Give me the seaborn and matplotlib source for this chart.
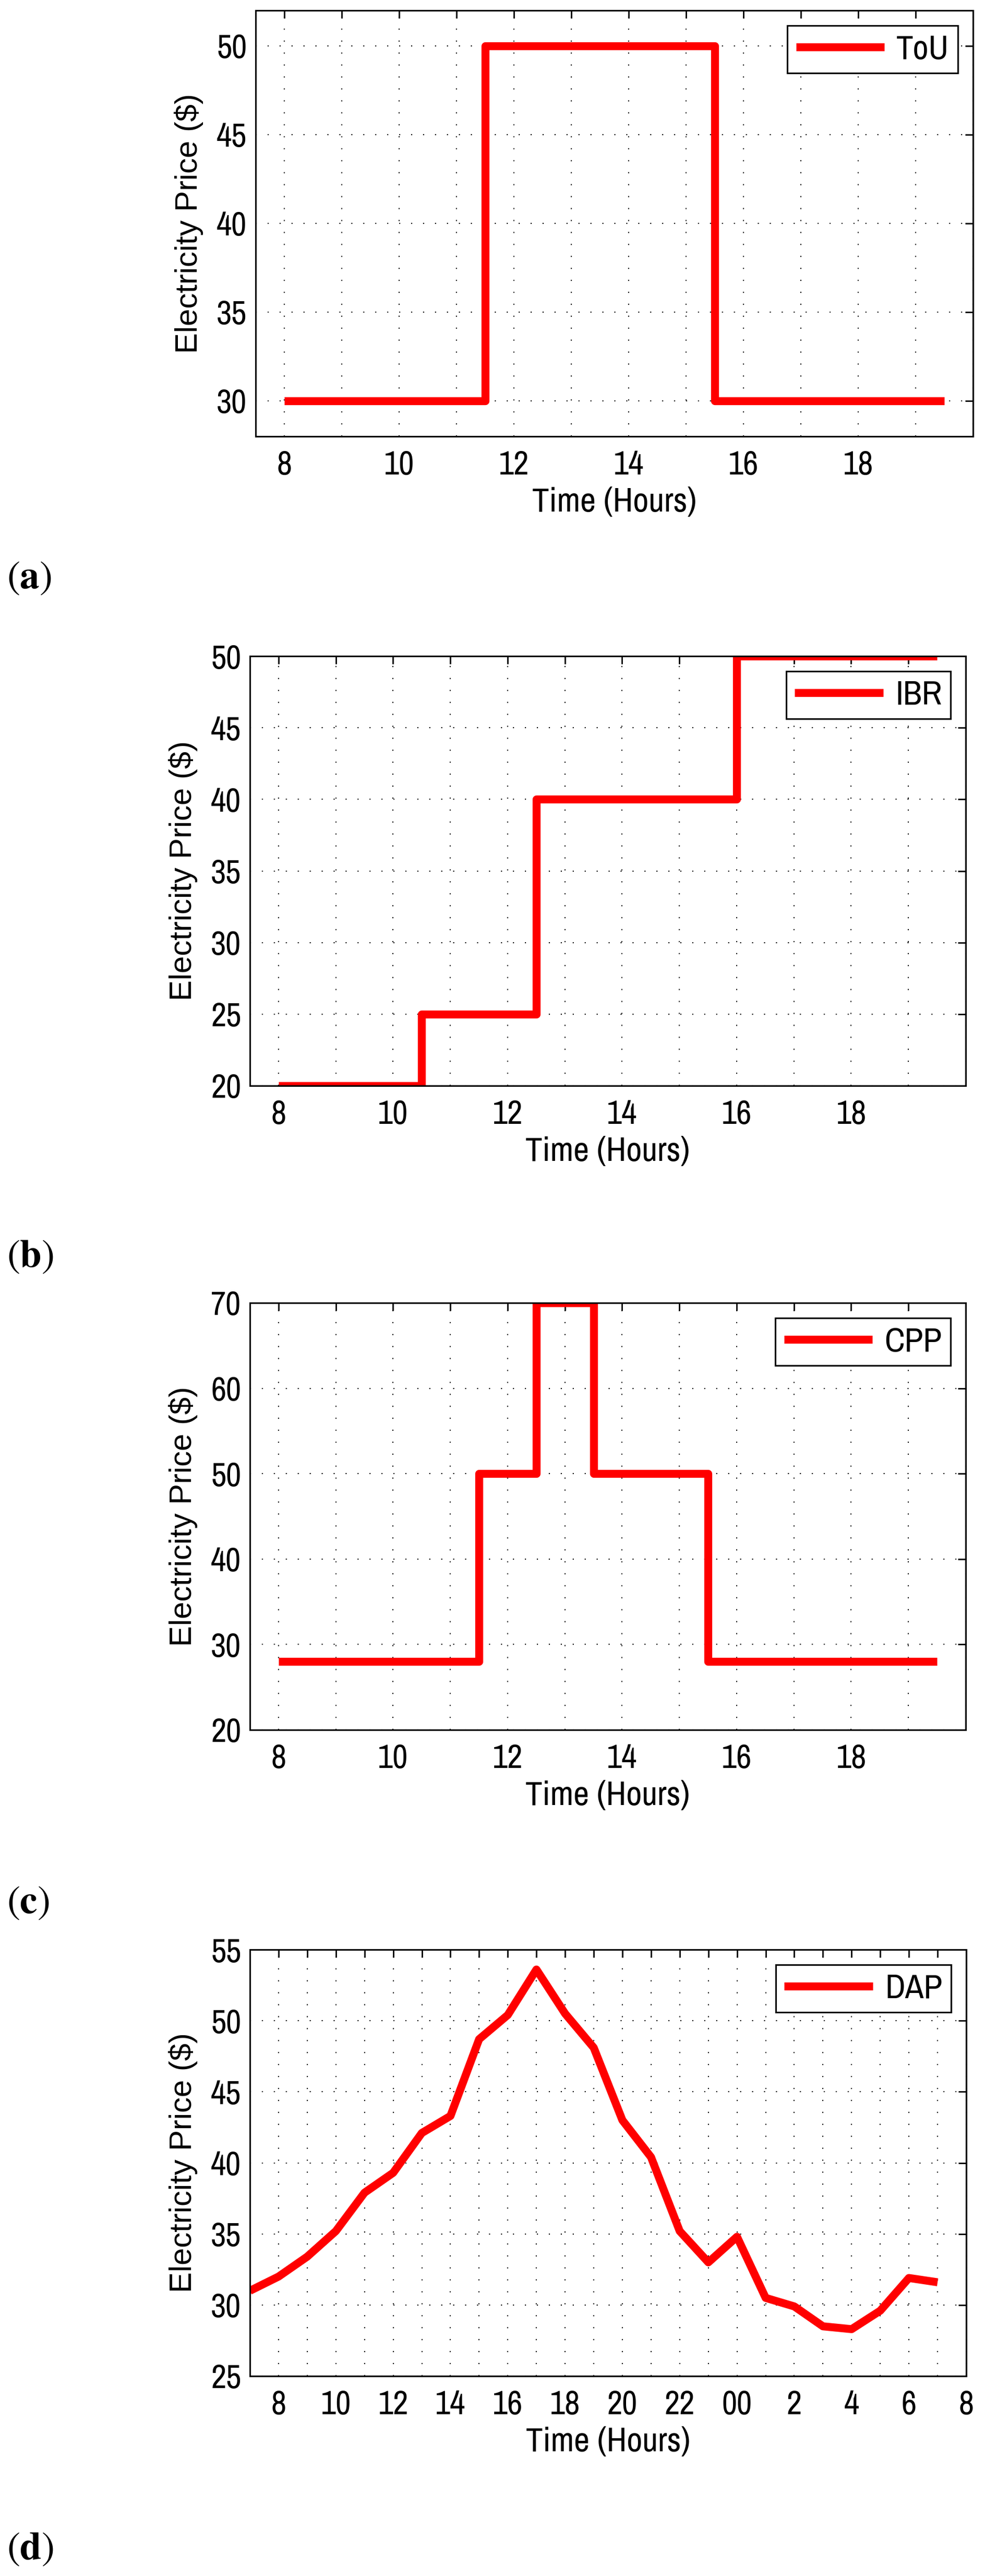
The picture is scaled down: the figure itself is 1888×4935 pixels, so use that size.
import matplotlib
matplotlib.use("Agg")
import matplotlib.pyplot as plt
from matplotlib import font_manager
from matplotlib.ticker import MultipleLocator, FixedLocator, FixedFormatter
import seaborn as sns
import pandas as pd
import os

# ---------------- data ----------------
tou_hours = [8, 11.5, 15.5, 19.5]
tou_price = [30, 50, 30, 30]

ibr_hours = [8, 10.5, 12.5, 16, 19.5]
ibr_price = [20, 25, 40, 50, 50]

cpp_hours = [8, 11.5, 12.5, 13.5, 15.5, 19.5]
cpp_price = [28, 50, 70, 50, 28, 28]

dap_hours = [7, 8, 9, 10, 11, 12, 13, 14, 15, 16, 17, 18, 19, 20, 21, 22, 23,
             24, 25, 26, 27, 28, 29, 30, 31]
dap_price = [31.0, 32.0, 33.4, 35.2, 37.9, 39.3, 42.1, 43.3, 48.7, 50.4, 53.6,
             50.5, 48.1, 43.0, 40.4, 35.2, 33.0, 34.8, 30.5, 29.9, 28.5, 28.3,
             29.6, 31.9, 31.6]

day_ticks = [8, 10, 12, 14, 16, 18]
day_tick_labels = ["8", "10", "12", "14", "16", "18"]
dap_ticks = [8, 10, 12, 14, 16, 18, 20, 22, 24, 26, 28, 30, 32]
dap_tick_labels = ["8", "10", "12", "14", "16", "18", "20", "22", "00",
                   "2", "4", "6", "8"]

series_names = ["ToU", "IBR", "CPP", "DAP"]
panel_letters = ["a", "b", "c", "d"]


# ---------------- fonts ----------------
def has_font(name):
    try:
        font_manager.findfont(font_manager.FontProperties(family=name),
                              fallback_to_default=False)
        return True
    except Exception:
        return False


regular = "Liberation Sans" if has_font("Liberation Sans") else "DejaVu Sans"

# look for a narrow sans face (Helvetica-Narrow-like digits)
narrow_path = None
for f in font_manager.fontManager.ttflist:
    base = os.path.basename(f.fname).lower()
    if ("narrow" in f.name.lower() or "narrow" in base) and \
            "bold" not in base and "italic" not in base and f.style == "normal" \
            and f.weight in (400, "normal", "regular"):
        narrow_path = f.fname
        break


def narrow_fp(size):
    if narrow_path:
        return font_manager.FontProperties(fname=narrow_path, size=size)
    return font_manager.FontProperties(family=regular, size=size)


sns.set_theme(style="white")
plt.rcParams["font.family"] = [regular, "DejaVu Sans"]
plt.rcParams["mathtext.fontset"] = "stix"
plt.rcParams["axes.edgecolor"] = "black"

W, H = 1888, 4935
fig = plt.figure(figsize=(W / 100, H / 100), dpi=100)
fig.patch.set_facecolor("white")

panels = [
    dict(x=tou_hours, y=tou_price, steps=True, box=(490, 20, 1865, 836),
         ylim=(28, 52), yticks=[30, 35, 40, 45, 50], xlim=(7.5, 20),
         xticks=day_ticks, xlabels=day_tick_labels, label_y=1108),
    dict(x=ibr_hours, y=ibr_price, steps=True, box=(479, 1257, 1851, 2080),
         ylim=(20, 50), yticks=[20, 25, 30, 35, 40, 45, 50], xlim=(7.5, 20),
         xticks=day_ticks, xlabels=day_tick_labels, label_y=2407),
    dict(x=cpp_hours, y=cpp_price, steps=True, box=(479, 2496, 1851, 3314),
         ylim=(20, 70), yticks=[20, 30, 40, 50, 60, 70], xlim=(7.5, 20),
         xticks=day_ticks, xlabels=day_tick_labels, label_y=3646),
    dict(x=dap_hours, y=dap_price, steps=False, box=(479, 3735, 1852, 4552),
         ylim=(25, 55), yticks=[25, 30, 35, 40, 45, 50, 55], xlim=(7, 32),
         xticks=dap_ticks, xlabels=dap_tick_labels, label_y=4883),
]

tick_size = 46 if narrow_path else 42
text_size = 47 if narrow_path else 43

for p, name, letter in zip(panels, series_names, panel_letters):
    L, T, R, B = p["box"]
    ax = fig.add_axes([L / W, 1 - B / H, (R - L) / W, (B - T) / H])
    df = pd.DataFrame({"Hour": p["x"], "Price": p["y"]})
    kw = dict(drawstyle="steps-post") if p["steps"] else {}
    sns.lineplot(data=df, x="Hour", y="Price", ax=ax, color="#ff0000",
                 linewidth=11, label=name, errorbar=None,
                 solid_capstyle="butt", solid_joinstyle="round", **kw)

    ax.set_xlim(*p["xlim"])
    ax.set_ylim(*p["ylim"])
    ax.xaxis.set_major_locator(FixedLocator(p["xticks"]))
    ax.xaxis.set_major_formatter(FixedFormatter(p["xlabels"]))
    ax.xaxis.set_minor_locator(MultipleLocator(1))
    ax.yaxis.set_major_locator(FixedLocator(p["yticks"]))

    for s in ax.spines.values():
        s.set_visible(True)
        s.set_color("black")
        s.set_linewidth(2.2)

    ax.tick_params(axis="both", which="both", direction="in", top=True,
                   right=True, length=10.5, width=2.0, color="black",
                   labelsize=tick_size, labelcolor="black")
    ax.tick_params(axis="x", which="both", pad=19)
    ax.tick_params(axis="y", which="both", pad=12)
    for lab in ax.get_xticklabels() + ax.get_yticklabels():
        lab.set_fontproperties(narrow_fp(tick_size))

    ax.grid(True, which="both", axis="x", color="black",
            linestyle=(0, (1, 10)), linewidth=1.5)
    ax.grid(True, which="major", axis="y", color="black",
            linestyle=(0, (1, 10)), linewidth=1.5)
    ax.set_axisbelow(True)

    ax.set_xlabel("Time (Hours)", fontproperties=narrow_fp(text_size),
                  color="black", labelpad=9)
    ax.set_ylabel("Electricity Price ($)", fontsize=43,
                  family=[regular, "DejaVu Sans"], color="black", labelpad=18)

    leg = ax.legend(loc="upper right", prop=narrow_fp(text_size),
                    handlelength=2.6, handletextpad=0.35, borderpad=0.25,
                    borderaxespad=0.45, fancybox=False, edgecolor="black",
                    framealpha=1, frameon=True)
    leg.get_frame().set_linewidth(2.2)
    for t in leg.get_texts():
        t.set_color("black")

    fig.text(13 / W, 1 - p["label_y"] / H, r"$(\mathbf{" + letter + r"})$",
             fontsize=54, ha="left", va="center", color="black")

fig.savefig("out.png", dpi=100, facecolor="white")
